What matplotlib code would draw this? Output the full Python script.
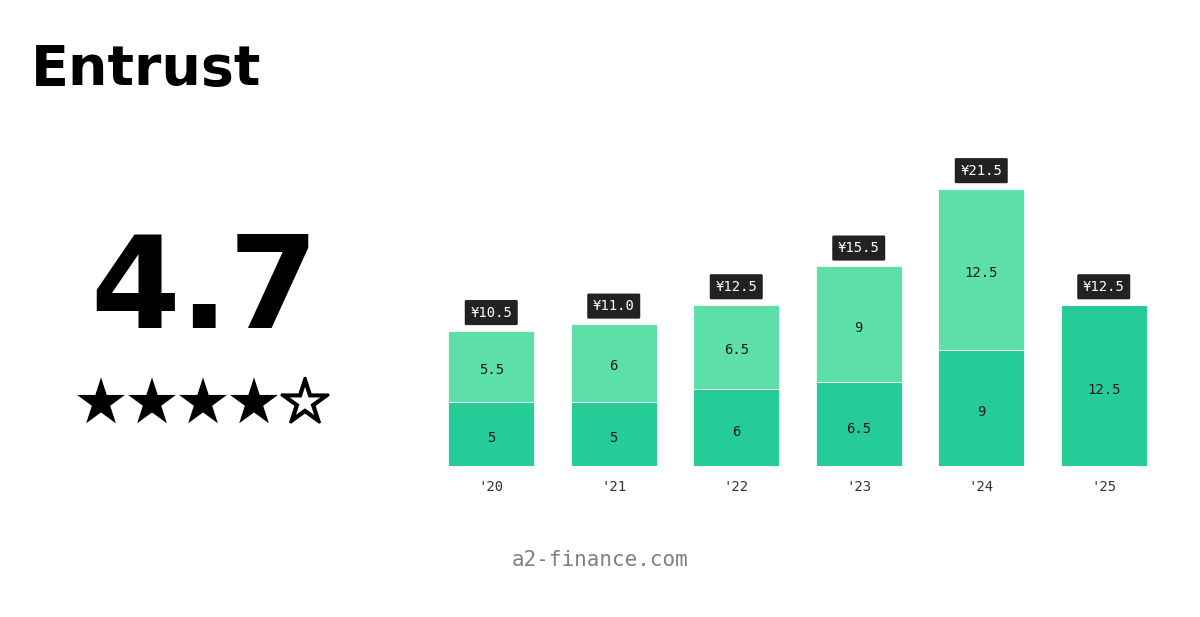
import matplotlib
matplotlib.use("Agg")
import matplotlib.pyplot as plt
import matplotlib.patheffects as pe

years = ["'20", "'21", "'22", "'23", "'24", "'25"]
base = [5, 5, 6, 6.5, 9, 12.5]
top = [5.5, 6, 6.5, 9, 12.5, 0]
totals = ["¥10.5", "¥11.0", "¥12.5", "¥15.5", "¥21.5", "¥12.5"]
company = "Entrust"
rating = "4.7"
stars = ["★", "★", "★", "★", "☆"]
site = "a2-finance.com"

c_base = "#25cc98"
c_top = "#5ce0a8"
mono = "DejaVu Sans Mono"

fig = plt.figure(figsize=(12, 6.17), dpi=100)
W, H = 1200, 617

fig.text(31 / W, 1 - 70 / H, company, fontsize=40, fontweight="bold",
         family="DejaVu Sans", ha="left", va="center")
fig.text(205 / W, 1 - 279 / H, rating, fontsize=93, fontweight="bold",
         family="DejaVu Sans", ha="center", va="center_baseline")
for k, s in enumerate(stars):
    cx = 101 + 51 * k
    effects = []
    if s == "☆":
        effects = [pe.withStroke(linewidth=1.8, foreground="black", joinstyle="miter")]
    fig.text(cx / W, 1 - 399 / H, s, fontsize=45, fontweight="bold",
             family="DejaVu Sans", ha="center", va="center_baseline",
             path_effects=effects)
fig.text(600 / W, 1 - 560 / H, site, fontsize=15, family=mono,
         color="#808080", ha="center", va="center")

# axes: bottom at 466px, ~12.9 px per unit
ax_left, ax_right = 430 / W, 1165 / W
ax_bottom_px, ax_top_px = 466, 150
ax = fig.add_axes([ax_left, 1 - ax_bottom_px / H, ax_right - ax_left,
                   (ax_bottom_px - ax_top_px) / H])
ymax = (ax_bottom_px - ax_top_px) / 12.9
ax.set_xlim(-0.5, 5.5)
ax.set_ylim(0, ymax)

x = list(range(len(years)))
ax.bar(x, base, width=0.7, color=c_base, edgecolor="white", linewidth=0.6)
ax.bar(x, top, bottom=base, width=0.7, color=c_top, edgecolor="white", linewidth=0.6)

for i in x:
    b = base[i]
    t = top[i]
    ax.annotate(f"{b:g}", (i, b / 2), xytext=(0, -3), textcoords="offset pixels",
                ha="center", va="center_baseline", fontsize=10,
                family=mono, color="#1a1a1a")
    if t > 0:
        ax.annotate(f"{t:g}", (i, b + t / 2), xytext=(0, -2), textcoords="offset pixels",
                    ha="center", va="center_baseline", fontsize=10,
                    family=mono, color="#1a1a1a")
    ax.annotate(totals[i], (i, b + t), xytext=(0, 18), textcoords="offset pixels",
                ha="center", va="center", fontsize=10, family=mono, color="white",
                bbox=dict(boxstyle="round,pad=0.4,rounding_size=0.1",
                          fc="#222222", ec="none"))

ax.set_xticks(x)
ax.set_xticklabels(years, family=mono, fontsize=10, color="#333333")
ax.tick_params(axis="x", length=0, pad=10)
ax.set_yticks([])
for s in ax.spines.values():
    s.set_visible(False)

fig.savefig("out.png", dpi=100, facecolor="white")
